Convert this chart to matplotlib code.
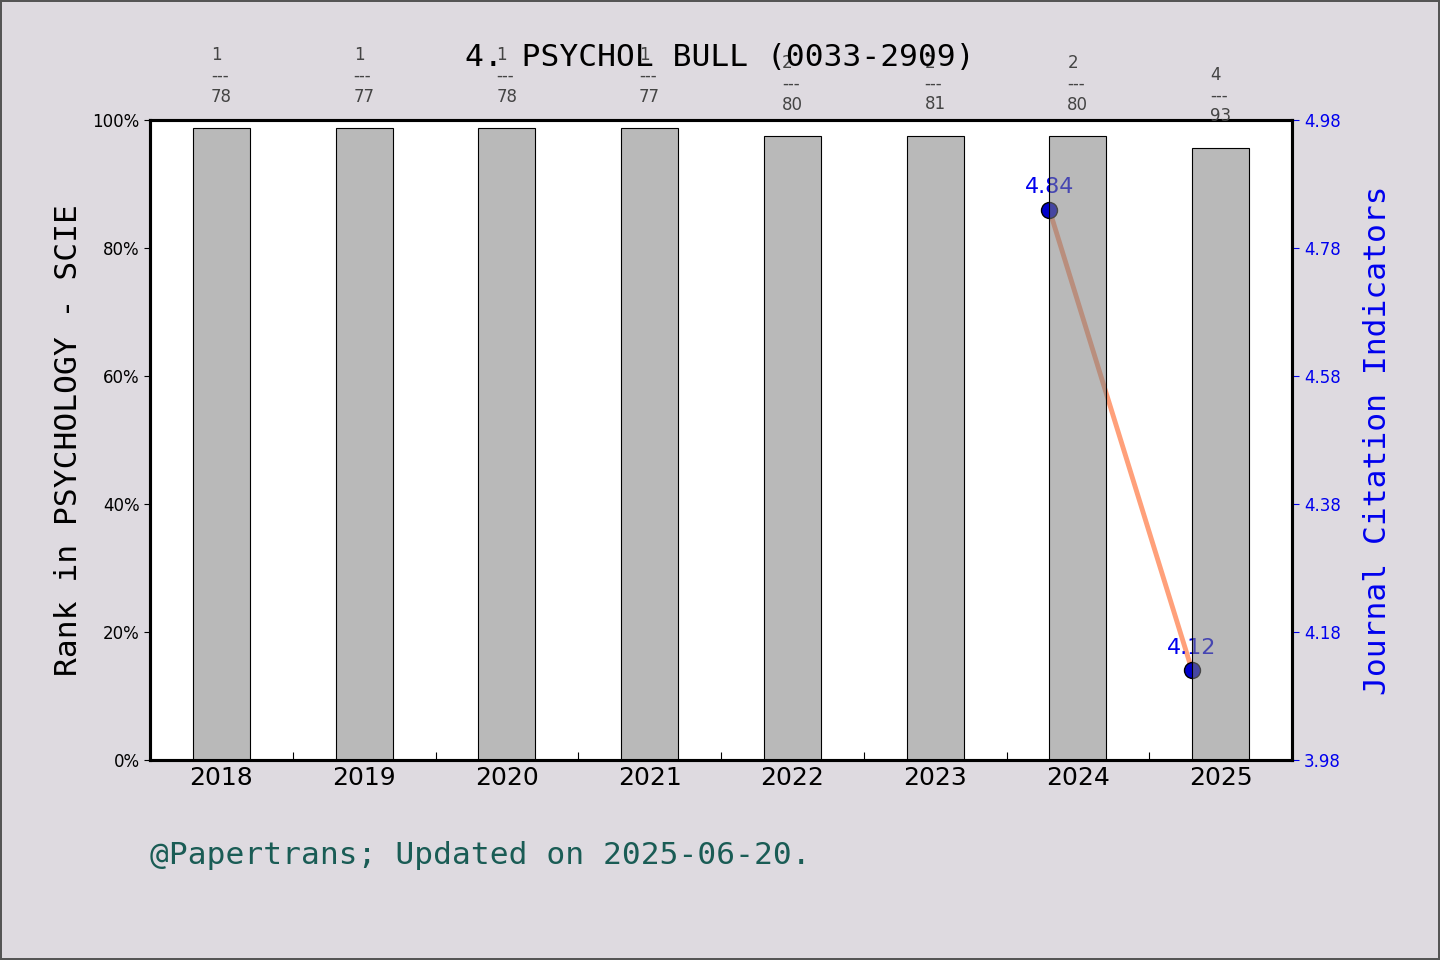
import numpy as np
import matplotlib
matplotlib.use("Agg")
import matplotlib.pyplot as plt
from matplotlib.ticker import PercentFormatter

# data
years = ["2018", "2019", "2020", "2021", "2022", "2023", "2024", "2025"]
ranks = [1, 1, 1, 1, 2, 2, 2, 4]
totals = [78, 77, 78, 77, 80, 81, 80, 93]
jci_years = ["2024", "2025"]
jci_values = [4.84, 4.12]

bg = "#dedae0"
mono = "DejaVu Sans Mono"

fig = plt.figure(figsize=(14.4, 9.6), dpi=100, facecolor=bg)
fig.patch.set_edgecolor("#555555")
fig.patch.set_linewidth(1.5)

ax = fig.add_axes([150 / 1440, 1 - 760 / 960, 1142 / 1440, 640 / 960])
ax2 = ax.twinx()

x = np.arange(len(years))
share = [1 - r / t for r, t in zip(ranks, totals)]

# bars sit above the JCI line (semi-transparent grey)
ax.set_zorder(ax2.get_zorder() + 1)
ax.patch.set_visible(False)
ax2.patch.set_visible(True)
ax2.patch.set_facecolor("white")

ax.bar(x, share, width=0.4, facecolor=(0.5, 0.5, 0.5, 0.55),
       edgecolor="black", linewidth=0.8)

for xi, s, r, t in zip(x, share, ranks, totals):
    ax.text(xi, s + 0.035, f"{r}\n---\n{t}", ha="center", va="bottom",
            multialignment="left", fontsize=12, color="#444444",
            linespacing=1.2, clip_on=False)

ax.set_xlim(-0.5, len(years) - 0.5)
ax.set_ylim(0, 1)
ax.set_xticks(x)
ax.set_xticklabels(years, fontsize=18)
ax.set_xticks(x[:-1] + 0.5, minor=True)
ax.tick_params(axis="x", which="major", length=0, pad=4)
ax.tick_params(axis="x", which="minor", direction="in", length=6, width=0.8)
ax.yaxis.set_major_formatter(PercentFormatter(1.0, decimals=0))
ax.set_yticks(np.arange(0, 1.01, 0.2))
ax.tick_params(axis="y", labelsize=12, length=4, width=0.8)
ax.set_ylabel("Rank in PSYCHOLOGY - SCIE", fontsize=22.5, family=mono, labelpad=7)

# JCI line on the right axis
jx = [years.index(y) - 0.2 for y in jci_years]
ax2.plot(jx, jci_values, color="#ffa07a", linewidth=3.5, zorder=2)
ax2.plot(jx, jci_values, "o", color="#0000cc", markeredgecolor="black",
         markersize=11.5, markeredgewidth=1, zorder=3)
for xi, v in zip(jx, jci_values):
    ax2.annotate(f"{v:.2f}", (xi, v), xytext=(0, 9), textcoords="offset points",
                 ha="center", va="bottom", fontsize=16, color="#0000ee")

ax2.set_ylim(3.98, 4.98)
ax2.set_yticks(np.arange(3.98, 4.99, 0.2))
ax2.set_yticklabels([f"{v:.2f}" for v in np.arange(3.98, 4.99, 0.2)])
ax2.tick_params(axis="y", colors="#0000ee", labelsize=12, length=5, width=0.8)
ax2.set_ylabel("Journal Citation Indicators", fontsize=22.5, family=mono,
               color="#0000ee", labelpad=16)

for a in (ax, ax2):
    for sp in a.spines.values():
        sp.set_linewidth(2.2)
        sp.set_color("black")

fig.text(0.5, 1 - 57 / 960, "4. PSYCHOL BULL (0033-2909)", ha="center",
         va="center", fontsize=22.5, family=mono)
fig.text(150 / 1440, 1 - 855 / 960, "@Papertrans; Updated on 2025-06-20.",
         ha="left", va="center", fontsize=22.5, family=mono, color="#1a5c55")

fig.savefig("out.png", dpi=100, facecolor=bg, edgecolor=fig.patch.get_edgecolor())
